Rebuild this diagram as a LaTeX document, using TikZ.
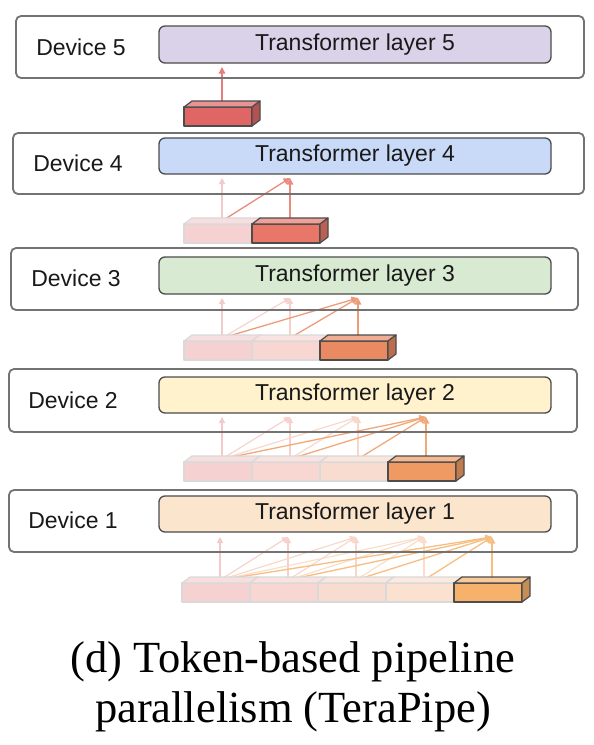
\documentclass[tikz,border=0pt]{standalone}
\usepackage{fontspec}
\setmainfont{Liberation Serif}
\newfontfamily\arialf{Liberation Sans}
\usetikzlibrary{arrows.meta,calc}
\definecolor{tc1}{HTML}{E06666}
\definecolor{tc2}{HTML}{E8776A}
\definecolor{tc3}{HTML}{EA8A62}
\definecolor{tc4}{HTML}{F09A63}
\definecolor{tc5}{HTML}{F6B26B}
\definecolor{lay5}{HTML}{D9D2E9}
\definecolor{lay4}{HTML}{C9DAF8}
\definecolor{lay3}{HTML}{D9EAD3}
\definecolor{lay2}{HTML}{FFF2CC}
\definecolor{lay1}{HTML}{FCE5CD}
\tikzset{
  devbox/.style={draw=black!55, line width=1.8pt, rounded corners=5pt, inner sep=0pt},
  laybox/.style={draw=black!70, line width=1.3pt, rounded corners=6pt, minimum width=392pt, inner sep=0pt,
    font=\arialf\fontsize{23}{27}\selectfont, text=black!90},
  devlabel/.style={font=\arialf\fontsize{23}{27}\selectfont, text=black!90, inner sep=0pt},
  tokface/.style={line width=1.2pt, line join=round},
  arr/.style={line width=1.1pt, -{Triangle[width=6pt,length=6pt]}},
  strongarr/.style={line width=1.3pt, -{Triangle[width=6.5pt,length=6.5pt]}},
  captext/.style={font=\fontsize{44.5}{50}\selectfont, inner sep=0pt, anchor=base},
}
\newcommand\tokbox[5]{%
  \filldraw[tokface, fill={#3!#4!white}, draw=#5] (#1,#2) rectangle ({#1+68},{#2+19});
  \filldraw[tokface, fill={#3!#4!white!70!white}, draw=#5] (#1,#2) -- ({#1+8},{#2-6}) -- ({#1+76},{#2-6}) -- ({#1+68},#2) -- cycle;
  \filldraw[tokface, fill={#3!#4!white!80!black}, draw=#5] ({#1+68},#2) -- ({#1+76},{#2-6}) -- ({#1+76},{#2+13}) -- ({#1+68},{#2+19}) -- cycle;
}
\begin{document}
\begin{tikzpicture}[x=1pt,y=-1pt]
\useasboundingbox (0,0) rectangle (594,745);
\fill[white] (0,0) rectangle (594,745);

% arrows
\foreach \n/\xx/\yy/\ty in {1/184/107/67, 2/184/224/178, 3/184/341/298, 4/184/462/417, 5/182/583/537} {
  \foreach \j in {1,...,\n} {
    \pgfmathsetmacro\tgx{\xx+68*(\j-1)+38}
    \coordinate (tg\n-\j) at (\tgx,\ty);
    \coordinate (src\n-\j) at (\tgx,{\yy-3});
  }
  \foreach \j in {1,...,\n} {
    \foreach \i in {1,...,\j} {
      \ifnum\j<\n
        \draw[arr, draw=tc\j!35!white] (src\n-\i) -- (tg\n-\j);
      \else
        \draw[strongarr, draw=tc\j!85!white] (src\n-\i) -- (tg\n-\j);
      \fi
    }
  }
}

% device boxes
\node[devbox, minimum width=568pt, minimum height=62pt] (dev5) at (300,47) {};
\node[devbox, minimum width=571pt, minimum height=61pt] (dev4) at (298.5,163.5) {};
\node[devbox, minimum width=567pt, minimum height=62pt] (dev3) at (294.5,279) {};
\node[devbox, minimum width=568pt, minimum height=63pt] (dev2) at (293,400.5) {};
\node[devbox, minimum width=568pt, minimum height=62pt] (dev1) at (293,521) {};

\node[devlabel] (dl5) at (81,47) {Device 5};
\node[devlabel] (dl4) at (78,163) {Device 4};
\node[devlabel] (dl3) at (76,278) {Device 3};
\node[devlabel] (dl2) at (73,400) {Device 2};
\node[devlabel] (dl1) at (73,520) {Device 1};

% layers
\node[laybox, fill=lay5, minimum height=37pt] (L5) at (355,44.5) {Transformer layer 5};
\node[laybox, fill=lay4, minimum height=36pt] (L4) at (355,156) {Transformer layer 4};
\node[laybox, fill=lay3, minimum height=37pt] (L3) at (355,275.5) {Transformer layer 3};
\node[laybox, fill=lay2, minimum height=36pt] (L2) at (355,395) {Transformer layer 2};
\node[laybox, fill=lay1, minimum height=36pt] (L1) at (355,514) {Transformer layer 1};

% tokens
\foreach \n/\xx/\yy in {1/184/107, 2/184/224, 3/184/341, 4/184/462, 5/182/583} {
  \foreach \i in {1,...,\n} {
    \pgfmathsetmacro\tx{\xx+68*(\i-1)}
    \ifnum\i<\n
      \tokbox{\tx}{\yy}{tc\i}{30}{black!15}
    \else
      \tokbox{\tx}{\yy}{tc\i}{100}{black!70}
    \fi
  }
}

% caption
\node[captext] (cap1) at (293,672) {(d) Token-based pipeline};
\node[captext] (cap2) at (293,722) {parallelism (TeraPipe)};
\end{tikzpicture}
\end{document}
